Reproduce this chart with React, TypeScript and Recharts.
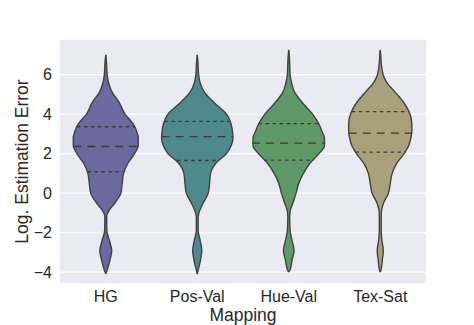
import React from 'react';
import { ComposedChart, Area, XAxis, YAxis, CartesianGrid, ReferenceLine } from 'recharts';

const categories = ['HG', 'Pos-Val', 'Hue-Val', 'Tex-Sat'];
const colors = ['#6a69a0', '#4e898b', '#5f9968', '#a8a17a'];
const yTicks = [-4, -2, 0, 2, 4, 6];

// Vertical sample positions (log estimation error)
const yGrid = [-4.1, -4.0, -3.9, -3.4, -2.9, -2.4, -1.9, -1.2, -0.85, -0.5, 0, 0.5, 1.0, 1.5, 2.0, 2.4, 2.8, 3.1, 3.5, 4.0, 4.6, 5.1, 5.6, 6.0, 6.6, 7.0, 7.25];

// Half-widths of each violin (category units) at the yGrid positions
const hgWidth = [0, 0.008, 0.015, 0.045, 0.065, 0.04, 0.012, 0.01, 0.04, 0.1, 0.165, 0.18, 0.195, 0.24, 0.315, 0.355, 0.355, 0.34, 0.3, 0.21, 0.145, 0.07, 0.03, 0.015, 0.008, 0, null];
const posValWidth = [0, 0.005, 0.01, 0.035, 0.05, 0.032, 0.01, 0.01, 0.03, 0.065, 0.12, 0.135, 0.145, 0.2, 0.32, 0.37, 0.39, 0.385, 0.37, 0.32, 0.18, 0.08, 0.03, 0.015, 0.008, 0, null];
const hueValWidth = [null, 0, 0.012, 0.036, 0.058, 0.036, 0.015, 0.01, 0.018, 0.045, 0.08, 0.11, 0.16, 0.23, 0.33, 0.39, 0.39, 0.365, 0.33, 0.26, 0.145, 0.065, 0.03, 0.015, 0.01, 0.005, 0];
const texSatWidth = [null, 0, 0.008, 0.022, 0.033, 0.018, 0.01, 0.01, 0.015, 0.036, 0.09, 0.11, 0.13, 0.18, 0.26, 0.31, 0.335, 0.345, 0.345, 0.325, 0.255, 0.165, 0.07, 0.03, 0.01, 0.005, 0];

const widths = [hgWidth, posValWidth, hueValWidth, texSatWidth];

// Quartiles: [q1, median, q3] and their half-widths
const quartiles = [
  [1.08, 2.36, 3.36],
  [1.65, 2.86, 3.63],
  [1.67, 2.53, 3.52],
  [2.07, 3.04, 4.12],
];
const quartileWidths = [
  [0.2, 0.355, 0.315],
  [0.22, 0.39, 0.36],
  [0.27, 0.4, 0.33],
  [0.27, 0.345, 0.31],
];

const data = yGrid.map((y, i) => {
  const row: any = { y };
  widths.forEach((w, c) => {
    const hw = w[i];
    row['v' + c] = hw == null ? [null, null] : [c - hw, c + hw];
  });
  return row;
});

const font = '"Liberation Sans", Arial, sans-serif';

export default function App() {
  return (
    <div style={{ position: 'absolute', left: 0, top: 0, fontFamily: font }}>
      <ComposedChart
        width={474}
        height={325}
        data={data}
        layout="vertical"
        margin={{ top: 39, right: 48, left: 0, bottom: 0 }}
      >
        <CartesianGrid vertical={false} stroke="#ffffff" strokeWidth={1.3} fill="#eaeaf2" />
        <XAxis
          type="number"
          domain={[-0.5, 3.5]}
          allowDataOverflow
          ticks={[0, 1, 2, 3]}
          tickFormatter={(v: number) => categories[v]}
          axisLine={false}
          tickLine={false}
          tickSize={0}
          tickMargin={7}
          height={41}
          tick={{ fill: '#262626', fontSize: 16, fontFamily: font }}
          label={{ value: 'Mapping', position: 'insideBottom', offset: 4, fill: '#262626', fontSize: 17.5, fontFamily: font }}
        />
        <YAxis
          type="number"
          dataKey="y"
          domain={[-4.6, 7.8]}
          reversed
          allowDataOverflow
          ticks={yTicks}
          tickFormatter={(v: number) => String(v).replace('-', '\u2212')}
          axisLine={false}
          tickLine={false}
          tickSize={0}
          tickMargin={8}
          width={60}
          tick={{ fill: '#262626', fontSize: 16, fontFamily: font }}
          label={{ value: 'Log. Estimation Error', angle: -90, position: 'center', dx: -8, fill: '#262626', fontSize: 17.5, fontFamily: font }}
        />
        {categories.map((c, i) => (
          <Area
            key={c}
            dataKey={'v' + i}
            type="monotone"
            fill={colors[i]}
            fillOpacity={1}
            stroke="#414141"
            strokeWidth={1.4}
            isAnimationActive={false}
            dot={false}
            activeDot={false}
          />
        ))}
        {quartiles.map((qs, i) =>
          qs.map((q, k) => (
            <ReferenceLine
              key={i + '-' + k}
              segment={[
                { x: i - quartileWidths[i][k], y: q },
                { x: i + quartileWidths[i][k], y: q },
              ]}
              stroke="#3a3a3a"
              strokeWidth={1.3}
              strokeDasharray={k === 1 ? '8 6' : '3.5 3.5'}
            />
          ))
        )}
      </ComposedChart>
    </div>
  );
}
